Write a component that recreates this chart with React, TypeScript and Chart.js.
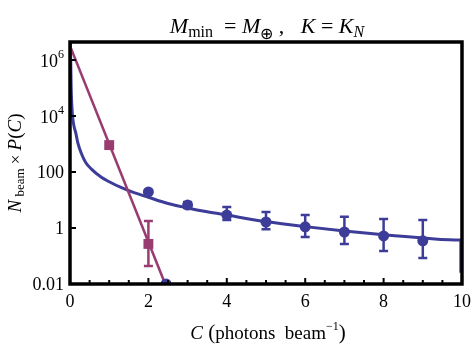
import { useEffect, useRef } from 'react';
import { Chart, registerables } from 'chart.js';

Chart.register(...registerables);

const FONT = '"Liberation Serif", "Times New Roman", serif';
const BLUE = '#3d3d99';
const MAGENTA = '#993d71';

// Blue model curve
const curveC = [0.01, 0.03, 0.06, 0.1, 0.15, 0.2, 0.28, 0.4, 0.54, 0.8, 1.0, 1.3, 1.6, 2.0, 2.5, 3.0, 3.5, 4, 5, 6, 7, 8, 9, 9.97, 9.97];
const curveVal = [5e6, 1e5, 1.2e4, 4500, 2400, 1100, 500, 220, 130, 65, 45, 28, 19, 12.5, 7.5, 5.2, 3.8, 2.9, 1.7, 1.12, 0.78, 0.57, 0.44, 0.37, 0.025];

// Blue data points with error bars
const blueC = [2, 2.45, 3, 4, 5, 6, 7, 8, 9];
const blueVal = [19.4, 0.01, 6.6, 2.9, 1.64, 1.1, 0.72, 0.52, 0.35];
const blueHigh = [null, null, 8.5, 5.6, 3.7, 2.9, 2.5, 2.1, 1.94];
const blueLow = [null, null, 5.2, 1.94, 0.91, 0.48, 0.27, 0.15, 0.085];

// Magenta model line
const lineC = [0, 2.6];
const lineVal = [3.2e6, 0.0025];

// Magenta data points with error bars
const magC = [1, 2];
const magVal = [915, 0.27];
const magHigh = [null, 1.78];
const magLow = [null, 0.044];

// Axes
const X_MIN = 0;
const X_MAX = 10;
const Y_MIN = 0.01;
const Y_MAX = 4.4e6;
const xTickValues = [0, 2, 4, 6, 8, 10];
const xTickLabels = ['0', '2', '4', '6', '8', '10'];
const xMinorTicks = [0.5, 1, 1.5, 2.5, 3, 3.5, 4.5, 5, 5.5, 6.5, 7, 7.5, 8.5, 9, 9.5];
const yTickValues = [1e6, 1e4, 100, 1, 0.01];
const yTickLabels = ['10^6', '10^4', '100', '1', '0.01'];

type Seg = { t: string; it?: boolean; size: number; dy?: number };

function richWidth(ctx: CanvasRenderingContext2D, segs: Seg[]) {
  let w = 0;
  for (const s of segs) {
    ctx.font = `${s.it ? 'italic ' : ''}${s.size}px ${FONT}`;
    w += ctx.measureText(s.t).width;
  }
  return w;
}

function drawRich(ctx: CanvasRenderingContext2D, segs: Seg[], x: number, y: number, align: 'left' | 'center' | 'right') {
  const w = richWidth(ctx, segs);
  let cx = align === 'left' ? x : align === 'center' ? x - w / 2 : x - w;
  ctx.textAlign = 'left';
  ctx.textBaseline = 'alphabetic';
  for (const s of segs) {
    ctx.font = `${s.it ? 'italic ' : ''}${s.size}px ${FONT}`;
    ctx.fillText(s.t, cx, y + (s.dy || 0));
    cx += ctx.measureText(s.t).width;
  }
}

function drawErrorBars(chart: any, xs: number[], highs: (number | null)[], lows: (number | null)[], color: string) {
  const ctx = chart.ctx as CanvasRenderingContext2D;
  const xs_ = chart.scales.x;
  const ys = chart.scales.y;
  const area = chart.chartArea;
  ctx.save();
  ctx.beginPath();
  ctx.rect(area.left, area.top, area.right - area.left, area.bottom - area.top);
  ctx.clip();
  ctx.strokeStyle = color;
  ctx.lineWidth = 2.5;
  ctx.lineCap = 'butt';
  for (let i = 0; i < xs.length; i++) {
    const hi = highs[i];
    const lo = lows[i];
    if (hi == null || lo == null) continue;
    const px = xs_.getPixelForValue(xs[i]);
    const py1 = ys.getPixelForValue(hi);
    const py2 = ys.getPixelForValue(lo);
    ctx.beginPath();
    ctx.moveTo(px, py1);
    ctx.lineTo(px, py2);
    ctx.moveTo(px - 4.5, py1);
    ctx.lineTo(px + 4.5, py1);
    ctx.moveTo(px - 4.5, py2);
    ctx.lineTo(px + 4.5, py2);
    ctx.stroke();
  }
  ctx.restore();
}

const decorPlugin = {
  id: 'decor',
  beforeDatasetsDraw(chart: any) {
    drawErrorBars(chart, blueC, blueHigh, blueLow, BLUE);
    drawErrorBars(chart, magC, magHigh, magLow, MAGENTA);
  },
  afterDraw(chart: any) {
    const ctx = chart.ctx as CanvasRenderingContext2D;
    const xs = chart.scales.x;
    const ys = chart.scales.y;
    const a = chart.chartArea;
    ctx.save();
    ctx.fillStyle = '#000';
    ctx.strokeStyle = '#000';

    // ticks on bottom axis (inward)
    ctx.lineWidth = 2;
    for (const v of xMinorTicks) {
      const px = xs.getPixelForValue(v);
      ctx.beginPath();
      ctx.moveTo(px, a.bottom);
      ctx.lineTo(px, a.bottom - 4);
      ctx.stroke();
    }
    for (const v of xTickValues) {
      const px = xs.getPixelForValue(v);
      ctx.beginPath();
      ctx.moveTo(px, a.bottom);
      ctx.lineTo(px, a.bottom - 6);
      ctx.stroke();
    }
    // ticks on left axis (inward)
    for (const v of yTickValues) {
      const py = ys.getPixelForValue(v);
      ctx.beginPath();
      ctx.moveTo(a.left, py);
      ctx.lineTo(a.left + 6, py);
      ctx.stroke();
    }

    // frame
    ctx.lineWidth = 3.5;
    ctx.strokeRect(a.left, a.top, a.right - a.left, a.bottom - a.top);

    // x tick labels
    for (let i = 0; i < xTickValues.length; i++) {
      const px = xs.getPixelForValue(xTickValues[i]);
      drawRich(ctx, [{ t: xTickLabels[i], size: 18 }], px, a.bottom + 23, 'center');
    }
    // y tick labels
    for (let i = 0; i < yTickValues.length; i++) {
      const py = ys.getPixelForValue(yTickValues[i]);
      const lab = yTickLabels[i];
      if (lab.includes('^')) {
        const [b, e] = lab.split('^');
        drawRich(ctx, [{ t: b, size: 18 }, { t: e, size: 12, dy: -9 }], a.left - 6, py + 7, 'right');
      } else {
        drawRich(ctx, [{ t: lab, size: 18 }], a.left - 6, py + 6, 'right');
      }
    }

    // title
    drawRich(
      ctx,
      [
        { t: 'M', it: true, size: 22 },
        { t: 'min', size: 16, dy: 4 },
        { t: '  = ', size: 22 },
        { t: 'M', it: true, size: 22 },
        { t: '\u2295', size: 16, dy: 6 },
        { t: ' ,   ', size: 22 },
        { t: 'K', it: true, size: 22 },
        { t: ' = ', size: 22 },
        { t: 'K', it: true, size: 22 },
        { t: 'N', it: true, size: 16, dy: 4 },
      ],
      (a.left + a.right) / 2 + 1,
      33,
      'center'
    );

    // x axis title
    drawRich(
      ctx,
      [
        { t: 'C', it: true, size: 19 },
        { t: ' (', size: 21 },
        { t: 'photons  beam', size: 19 },
        { t: '\u22121', size: 12, dy: -9 },
        { t: ')', size: 21 },
      ],
      (a.left + a.right) / 2 + 2,
      339,
      'center'
    );

    // y axis title
    ctx.translate(21, 163);
    ctx.rotate(-Math.PI / 2);
    drawRich(
      ctx,
      [
        { t: 'N', it: true, size: 19 },
        { t: ' beam', size: 13, dy: 3 },
        { t: ' \u00d7 ', size: 17 },
        { t: 'P', it: true, size: 19 },
        { t: '(', size: 19 },
        { t: 'C', it: true, size: 19 },
        { t: ')', size: 19 },
      ],
      0,
      0,
      'center'
    );
    ctx.restore();
  },
};

export default function App() {
  const ref = useRef<HTMLCanvasElement>(null);
  useEffect(() => {
    if (!ref.current) return;
    const chart = new Chart(ref.current, {
      type: 'line',
      data: {
        datasets: [
          {
            label: 'model blue',
            data: curveC.map((c, i) => ({ x: c, y: curveVal[i] })),
            borderColor: BLUE,
            borderWidth: 3,
            pointRadius: 0,
            fill: false,
            cubicInterpolationMode: 'monotone',
            clip: 0,
            order: 4,
          },
          {
            label: 'model magenta',
            data: lineC.map((c, i) => ({ x: c, y: lineVal[i] })),
            borderColor: MAGENTA,
            borderWidth: 2.6,
            pointRadius: 0,
            fill: false,
            clip: 0,
            order: 3,
          },
          {
            label: 'blue data',
            data: blueC.map((c, i) => ({ x: c, y: blueVal[i] })),
            showLine: false,
            pointStyle: 'circle',
            pointRadius: 5.5,
            pointBackgroundColor: BLUE,
            pointBorderWidth: 0,
            borderColor: BLUE,
            clip: 0,
            order: 2,
          },
          {
            label: 'magenta data',
            data: magC.map((c, i) => ({ x: c, y: magVal[i] })),
            showLine: false,
            pointStyle: 'rect',
            pointRadius: 7,
            pointBackgroundColor: MAGENTA,
            pointBorderWidth: 0,
            borderColor: MAGENTA,
            clip: 0,
            order: 1,
          },
        ],
      } as any,
      options: {
        animation: false,
        responsive: false,
        events: [],
        layout: { padding: { left: 70, right: 12, top: 42, bottom: 65 } },
        plugins: { legend: { display: false }, tooltip: { enabled: false }, title: { display: false } },
        scales: {
          x: { type: 'linear', min: X_MIN, max: X_MAX, display: false },
          y: { type: 'logarithmic', min: Y_MIN, max: Y_MAX, display: false },
        },
      } as any,
      plugins: [decorPlugin],
    });
    return () => chart.destroy();
  }, []);
  return (
    <div style={{ position: 'fixed', left: 0, top: 0, width: 474, height: 349, background: '#fff' }}>
      <canvas ref={ref} width={474} height={349} style={{ width: 474, height: 349, display: 'block' }} />
    </div>
  );
}
